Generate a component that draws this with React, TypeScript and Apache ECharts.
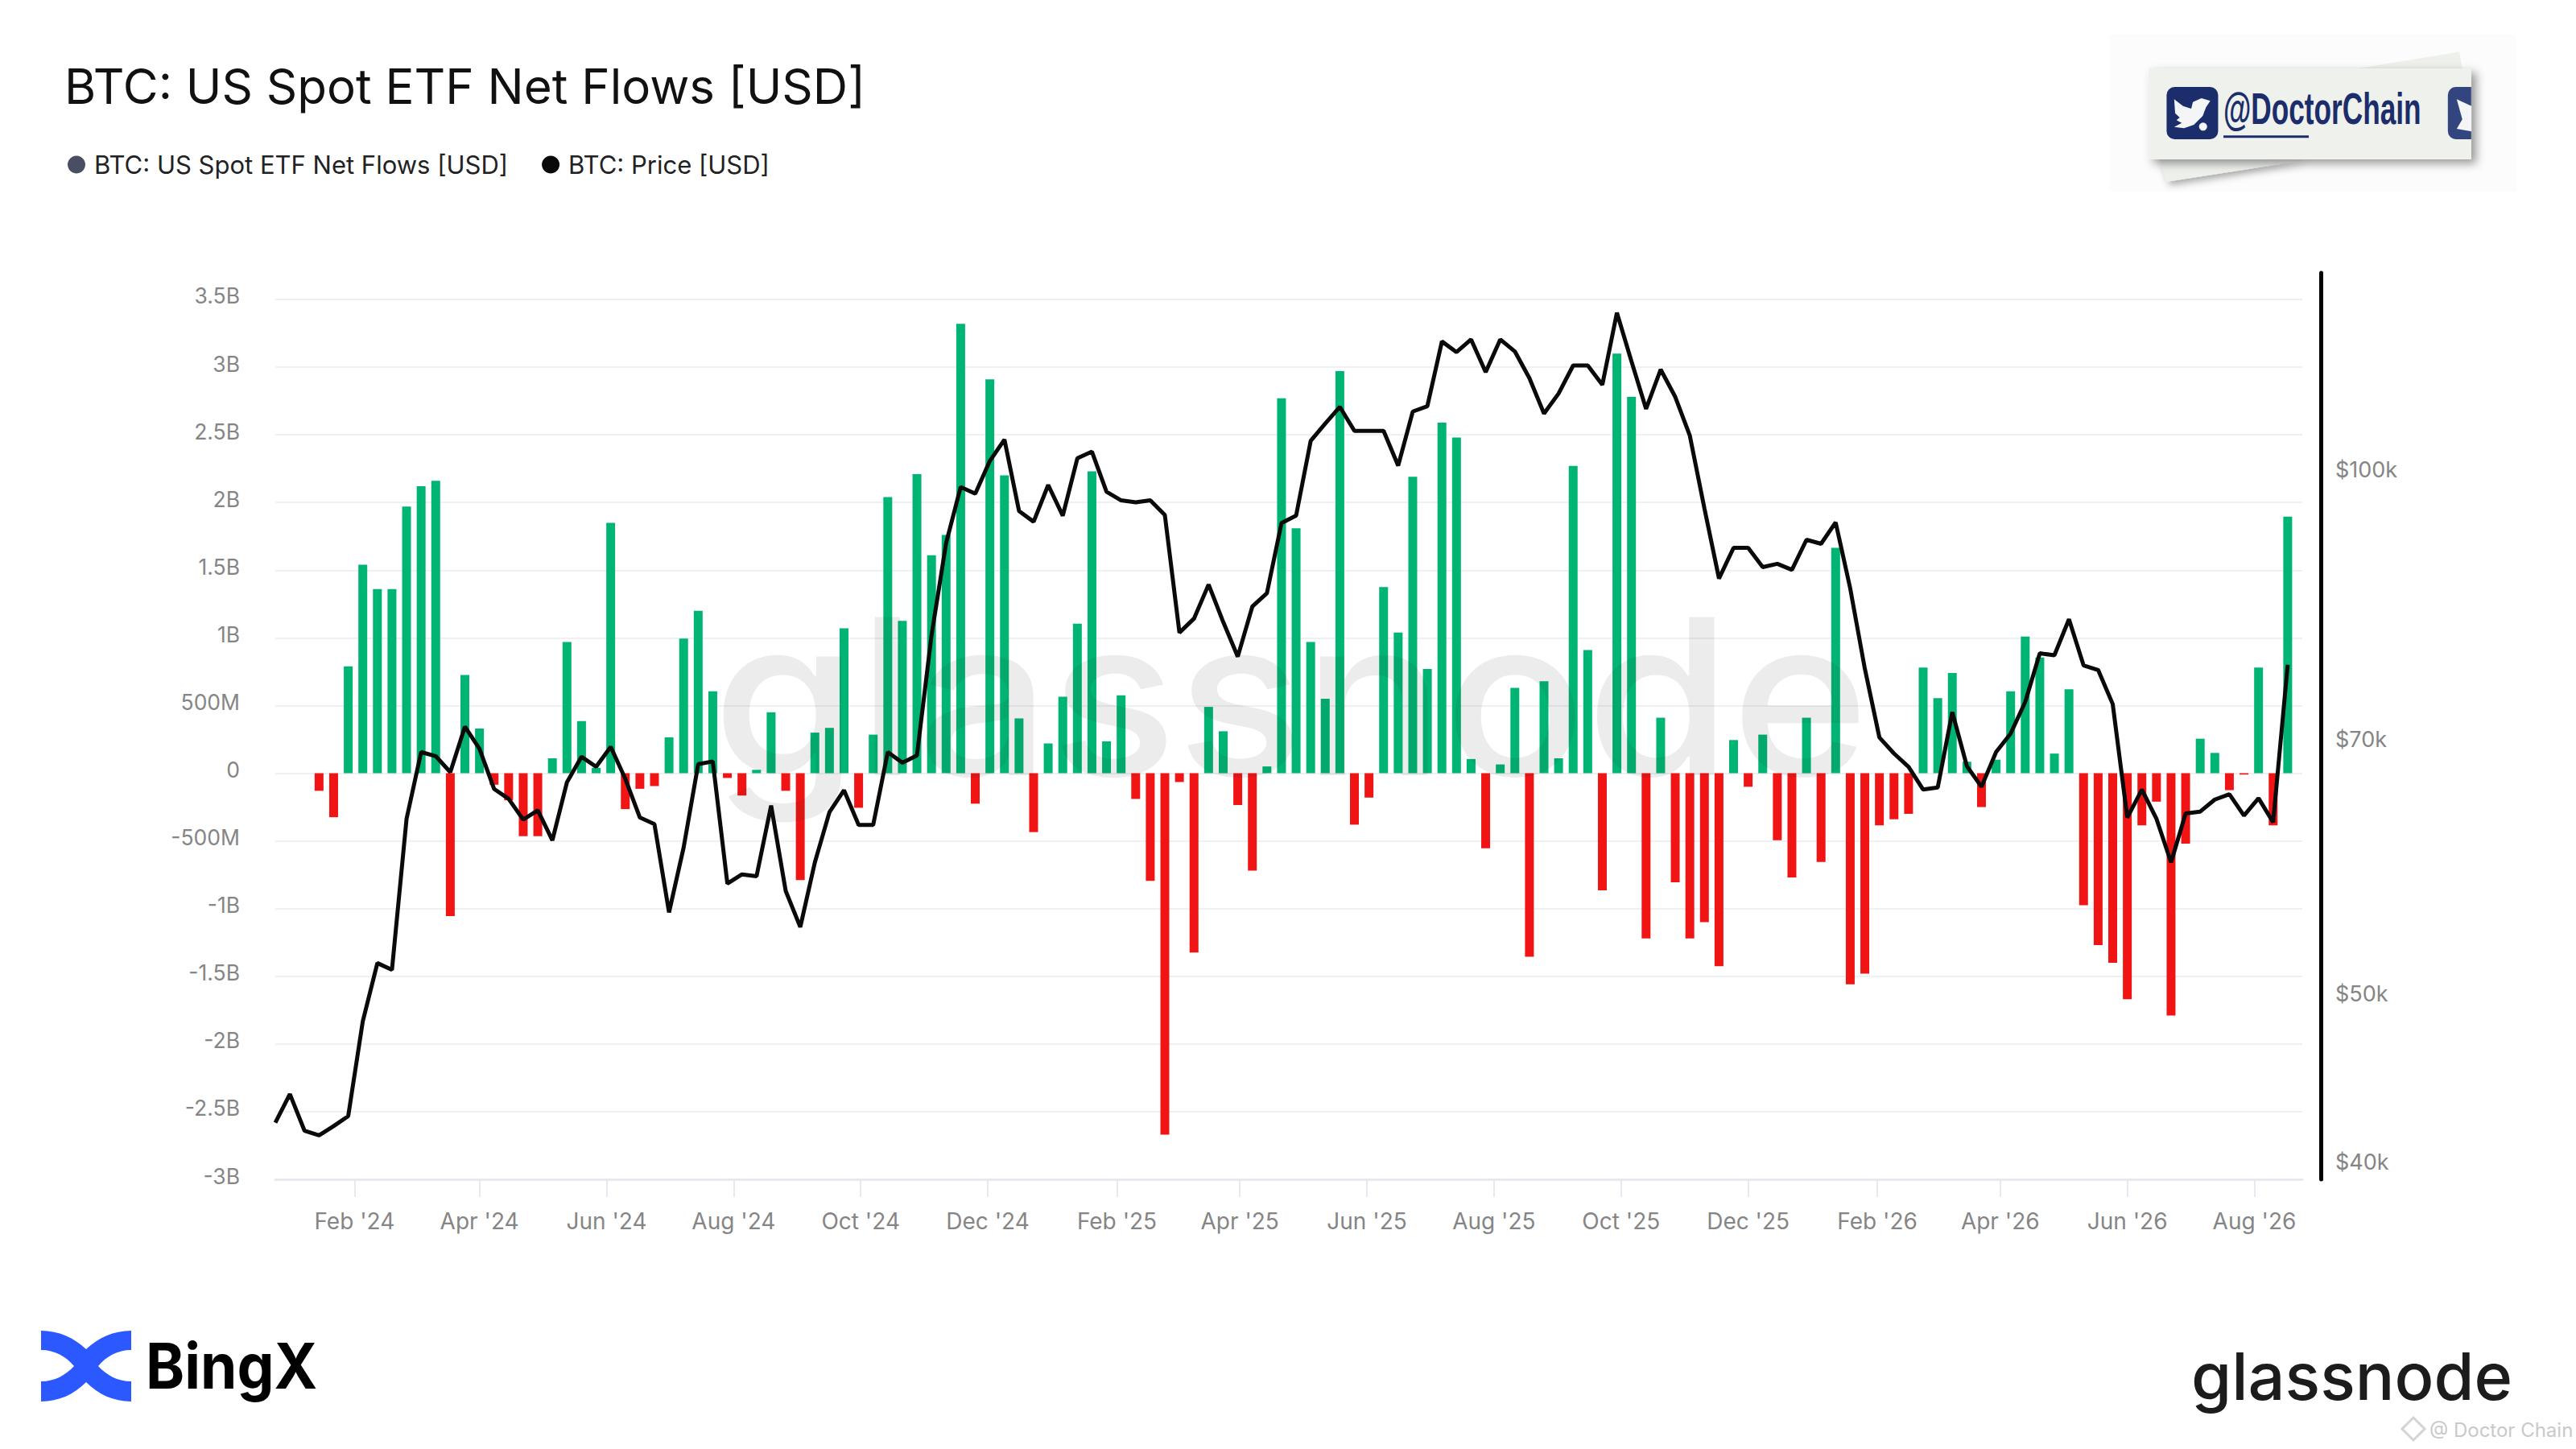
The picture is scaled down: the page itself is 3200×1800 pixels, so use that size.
import { useEffect, useRef } from "react";
import * as echarts from "echarts";

const FONT = "Inter";
const START = Date.UTC(2023, 11, 25);
const WEEK = 7 * 24 * 3600 * 1000;
const END = Date.UTC(2026, 7, 24);

// weekly net flows, USD billions
const flows = [
  0, 0, 0, -0.13, -0.325, 0.79, 1.54, 1.36, 1.36, 1.97, 2.12, 2.16, -1.055, 0.725, 0.33, -0.085, -0.2, -0.465, -0.465, 0.11,
  0.97, 0.385, 0.04, 1.85, -0.265, -0.115, -0.095, 0.265, 0.995, 1.2, 0.605, -0.035, -0.165, 0.025, 0.45, -0.13, -0.79, 0.3, 0.335, 1.07,
  -0.255, 0.285, 2.04, 1.125, 2.21, 1.61, 1.76, 3.32, -0.225, 2.91, 2.2, 0.405, -0.435, 0.22, 0.565, 1.105, 2.23, 0.235, 0.575, -0.19,
  -0.795, -2.67, -0.065, -1.325, 0.49, 0.31, -0.235, -0.72, 0.05, 2.77, 1.81, 0.97, 0.55, 2.97, -0.38, -0.18, 1.375, 1.04, 2.19, 0.77,
  2.59, 2.48, 0.105, -0.555, 0.065, 0.63, -1.355, 0.68, 0.11, 2.27, 0.91, -0.865, 3.1, 2.78, -1.22, 0.41, -0.805, -1.22, -1.1, -1.425,
  0.245, -0.1, 0.285, -0.495, -0.77, 0.41, -0.655, 1.665, -1.56, -1.48, -0.385, -0.34, -0.3, 0.78, 0.555, 0.74, 0.085, -0.25, 0.1, 0.605,
  1.01, 0.855, 0.145, 0.62, -0.975, -1.27, -1.4, -1.67, -0.385, -0.21, -1.79, -0.52, 0.255, 0.15, -0.125, -0.01, 0.78, -0.385, 1.895,
];

// weekly BTC price, USD thousands
const prices = [
  42.14, 43.77, 41.7, 41.44, 41.95, 42.51, 48.2, 52.05, 51.59, 62.99, 68.81, 68.44, 67.0, 71.16, 69.11, 65.54, 64.68, 62.93, 63.71, 61.23,
  66.12, 68.38, 67.48, 69.29, 66.42, 63.1, 62.55, 55.66, 60.64, 67.72, 67.96, 57.82, 58.53, 58.38, 64.11, 57.26, 54.59, 59.47, 63.55, 65.42,
  62.49, 62.49, 68.81, 67.84, 68.5, 80.31, 90.72, 97.71, 96.85, 101.14, 104.03, 94.65, 93.32, 97.97, 94.07, 101.49, 102.39, 97.1, 96.0, 95.74,
  96.0, 94.15, 80.59, 82.1, 85.88, 81.74, 78.07, 83.42, 84.91, 93.16, 94.07, 103.85, 106.26, 108.63, 105.24, 105.24, 105.24, 100.51, 107.96, 108.73,
  118.46, 116.79, 118.77, 113.75, 118.77, 116.9, 112.84, 107.68, 110.57, 114.75, 114.75, 111.85, 123.05, 115.36, 108.35, 114.14, 110.08, 104.58, 94.98, 86.57,
  90.16, 90.16, 87.88, 88.27, 87.57, 91.12, 90.64, 93.24, 85.43, 76.84, 70.15, 68.68, 67.48, 65.48, 65.66, 72.55, 67.54, 65.72, 68.81, 70.52,
  73.52, 78.41, 78.21, 82.03, 77.17, 76.7, 73.32, 63.1, 65.48, 62.99, 59.47, 63.44, 63.6, 64.62, 65.08, 63.27, 64.73, 62.71, 77.24,
];

const flowTicks = [-3, -2.5, -2, -1.5, -1, -0.5, 0, 0.5, 1, 1.5, 2, 2.5, 3, 3.5];
const flowLabels = ["-3B", "-2.5B", "-2B", "-1.5B", "-1B", "-500M", "0", "500M", "1B", "1.5B", "2B", "2.5B", "3B", "3.5B"];
const priceTicks = [40, 50, 70, 100];
const monthDates = [
  "2024-02-01", "2024-04-01", "2024-06-01", "2024-08-01", "2024-10-01", "2024-12-01", "2025-02-01", "2025-04-01",
  "2025-06-01", "2025-08-01", "2025-10-01", "2025-12-01", "2026-02-01", "2026-04-01", "2026-06-01", "2026-08-01",
];
const monthLabels = [
  "Feb '24", "Apr '24", "Jun '24", "Aug '24", "Oct '24", "Dec '24", "Feb '25", "Apr '25",
  "Jun '25", "Aug '25", "Oct '25", "Dec '25", "Feb '26", "Apr '26", "Jun '26", "Aug '26",
];

const FLOW_NAME = "BTC: US Spot ETF Net Flows [USD]";
const PRICE_NAME = "BTC: Price [USD]";
const monthTimes = monthDates.map((d) => Date.parse(d));

echarts.graphic.registerShape(
  "bingxMark",
  echarts.graphic.extendPath(
    "M0 0C22 0 41 9 56 23C71 9 90 0 112 0V24C95 24 81 32 71 44C81 55 95 63 112 63V88C90 88 71 79 56 64C41 79 22 88 0 88V63C17 63 31 55 41 44C31 32 17 24 0 24Z",
    {}
  )
);

// badge art is measured on a crop: 2.45x wide, 3x high
const bx = (x: number) => 2560 + x / 2.45;
const by = (y: number) => 20 + y / 3;
const pts = (list: number[][]) => list.map(([x, y]) => [bx(x), by(y)]);

const badge: any[] = [
  { type: "rect", shape: { x: 2620, y: 43, width: 506, height: 195 }, style: { fill: "#fcfcfc" } },
  {
    type: "polygon",
    shape: { points: pts([[905, 195], [1213, 133], [1222, 195]]) },
    style: { fill: "#eef0ec" },
  },
  {
    type: "polygon",
    shape: { points: pts([[300, 535], [323, 617], [740, 538]]) },
    style: { fill: "#eef0ec", shadowBlur: 10, shadowColor: "rgba(0,0,0,0.35)", shadowOffsetX: 4, shadowOffsetY: 4 },
  },
  {
    type: "rect",
    shape: { x: bx(267), y: by(195), width: 401, height: 113 },
    style: { fill: "#eff1ed", shadowBlur: 12, shadowColor: "rgba(0,0,0,0.4)", shadowOffsetX: 6, shadowOffsetY: 5 },
  },
  { type: "rect", shape: { x: bx(322), y: by(264), width: 64, height: 65, r: 10 }, style: { fill: "#1b2d6b" } },
  {
    type: "polygon",
    shape: {
      points: pts([
        [345, 310], [372, 335], [397, 345], [402, 320], [428, 306], [455, 316], [442, 340], [432, 372],
        [405, 405], [375, 418], [345, 413], [368, 398], [352, 388], [362, 378], [348, 362],
      ]),
    },
    style: { fill: "#f4f5f7" },
  },
  { type: "circle", shape: { cx: bx(433), cy: by(412), r: 5 }, style: { fill: "#f4f5f7" } },
  {
    type: "text",
    x: bx(495),
    y: by(345),
    scaleX: 0.64,
    style: {
      text: "@DoctorChain",
      fill: "#1b2d6b",
      font: 'bold 55px "Liberation Sans"',
      textVerticalAlign: "middle",
    },
  },
  { type: "rect", shape: { x: bx(495), y: by(445), width: 106, height: 3 }, style: { fill: "#1b2d6b" } },
  {
    type: "rect",
    shape: { x: bx(1178), y: by(264), width: 29, height: 65, r: [10, 0, 0, 10] },
    style: { fill: "#33457f" },
  },
  {
    type: "polygon",
    shape: { points: pts([[1205, 310], [1250, 335], [1250, 430], [1205, 420], [1222, 385]]) },
    style: { fill: "#f4f5f7" },
  },
];

export default function App() {
  const chartRef = useRef<HTMLDivElement | null>(null);

  useEffect(() => {
    if (!chartRef.current) return;
    const chart = echarts.init(chartRef.current, undefined, { renderer: "svg" });
    const axisText = { color: "#858585", fontFamily: FONT, fontSize: 28 };

    chart.setOption({
      animation: false,
      backgroundColor: "#ffffff",
      title: {
        text: FLOW_NAME,
        left: 75,
        top: 72,
        textStyle: { fontFamily: FONT, fontSize: 60, fontWeight: 400, color: "#111111" },
      },
      legend: {
        left: 79,
        top: 184,
        icon: "circle",
        itemWidth: 22,
        itemHeight: 22,
        itemGap: 42,
        textStyle: { fontFamily: FONT, fontSize: 31, color: "#222222", padding: [0, 0, 0, 6] },
        data: [
          { name: FLOW_NAME, itemStyle: { color: "#4a4e63" } },
          { name: PRICE_NAME, itemStyle: { color: "#0a0a0a" } },
        ],
      },
      grid: { left: 342, right: 340, top: 339, bottom: 335 },
      xAxis: {
        type: "value",
        min: START,
        max: END,
        axisLine: { onZero: false, lineStyle: { color: "#e8e9f0", width: 3 } },
        axisTick: { length: 22, customValues: monthTimes, lineStyle: { color: "#e8e9f0", width: 2 } },
        axisLabel: {
          ...axisText,
          margin: 38,
          customValues: monthTimes,
          hideOverlap: false,
          formatter: (v: number) => monthLabels[monthTimes.indexOf(v)] ?? "",
        },
        splitLine: { show: false },
      },
      yAxis: [
        {
          type: "value",
          min: -3,
          max: 3.696,
          axisLine: { show: false },
          axisTick: { show: false, customValues: flowTicks },
          axisLabel: {
            ...axisText,
            fontSize: 26.5,
            margin: 44,
            verticalAlign: "bottom",
            lineHeight: 9,
            customValues: flowTicks,
            formatter: (v: number) => flowLabels[flowTicks.indexOf(v)] ?? "",
          },
          splitLine: { lineStyle: { color: "#eef0f3", width: 2 } },
        },
        {
          type: "log",
          position: "right",
          min: 39.1,
          max: 129.7,
          offset: 23,
          axisLine: { show: true, onZero: false, lineStyle: { color: "#000000", width: 5 } },
          axisTick: { show: false, customValues: priceTicks },
          axisLabel: {
            ...axisText,
            fontSize: 27,
            margin: 18,
            customValues: priceTicks,
            formatter: (v: number) => `$${v}k`,
          },
          splitLine: { show: false },
        },
      ],
      series: [
        {
          name: FLOW_NAME,
          type: "bar",
          yAxisIndex: 0,
          barWidth: 11,
          data: flows.map((v, i) => [START + i * WEEK, v]),
          itemStyle: {
            color: (p: any) => (p.value[1] < 0 ? "#f01414" : "#00b574"),
          },
        },
        {
          name: PRICE_NAME,
          type: "line",
          yAxisIndex: 1,
          showSymbol: false,
          itemStyle: { color: "#0a0a0a" },
          lineStyle: { color: "#0a0a0a", width: 5 },
          data: prices.map((v, i) => [START + i * WEEK, v]),
        },
      ],
      graphic: [
        {
          type: "text",
          x: 885,
          y: 1000,
          z: 100,
          scaleX: 1.08,
          style: {
            text: "glassnode",
            fill: "rgba(40,40,40,0.085)",
            font: `500 270px ${FONT}`,
            textVerticalAlign: "bottom",
          },
        },
        { type: "bingxMark", x: 51, y: 1653, style: { fill: "#2b59ff" } },
        {
          type: "text",
          x: 181,
          y: 1697,
          scaleX: 0.935,
          style: { text: "BingX", fill: "#000000", font: `bold 78px ${FONT}`, textVerticalAlign: "middle" },
        },
        {
          type: "text",
          x: 2722,
          y: 1710,
          style: { text: "glassnode", fill: "#1c1c1c", font: `500 81px ${FONT}`, textVerticalAlign: "middle" },
        },
        {
          type: "polygon",
          shape: { points: [[2998, 1761], [3012, 1775], [2998, 1789], [2984, 1775]] },
          style: { fill: "none", stroke: "#d4d4d4", lineWidth: 3 },
        },
        {
          type: "text",
          x: 3018,
          y: 1776,
          style: { text: "@ Doctor Chain", fill: "#c9c9c9", font: `24px ${FONT}`, textVerticalAlign: "middle" },
        },
        ...badge,
      ],
    });

    return () => chart.dispose();
  }, []);

  return (
    <div
      ref={chartRef}
      style={{ position: "fixed", left: 0, top: 0, width: 3200, height: 1800, background: "#ffffff" }}
    />
  );
}
